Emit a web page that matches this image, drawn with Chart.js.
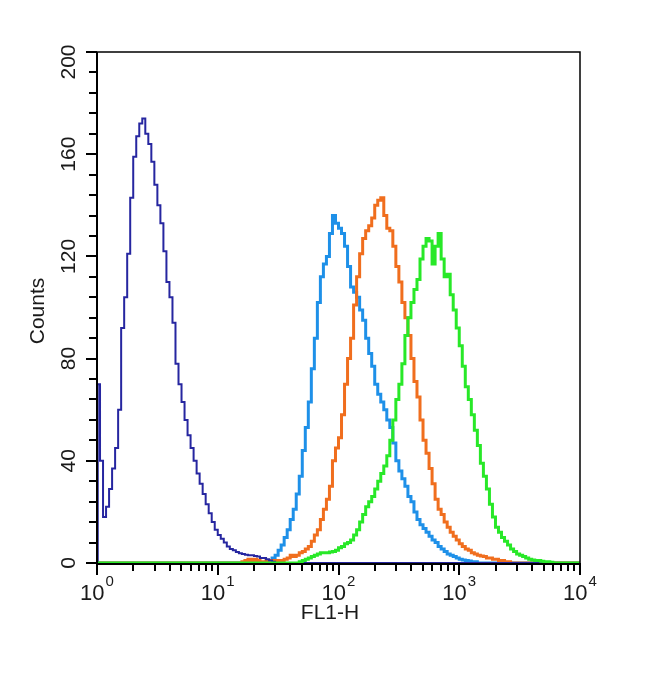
<!DOCTYPE html>
<html>
<head>
<meta charset="utf-8">
<title>FL1-H histogram</title>
<script src="https://cdn.jsdelivr.net/npm/chart.js@4"></script>
<style>
  html, body { margin: 0; padding: 0; background: #fff; }
</style>
</head>
<body>
<canvas id="histo" width="650" height="678"></canvas>
<script>
'use strict';
//****************************
// DATA (counts per channel, 40 channels per decade)
//****************************
var binsPerDecade = 40;
var binCount = 160;
var xDecades = [1, 10, 100, 1000, 10000];
var xExponents = ['0', '1', '2', '3', '4'];
var yTickLabels = [0, 40, 80, 120, 160, 200];
var yMinorStep = 8;

var navyStart = 0;
var navyCounts = [70, 40, 18, 22, 29, 37, 45, 60, 92, 104, 121, 143, 159, 167, 172, 174, 168, 164, 157, 148,
  140, 133, 122, 110, 104, 94, 78, 70, 63, 56, 50, 45, 40, 35, 31, 27, 23, 19.5, 16, 13,
  11, 9.5, 8, 6.5, 5.5, 5, 4.3, 3.8, 3.5, 3.2, 3, 3, 2.7, 2.5, 2, 2, 1.5, 1, 0.5];

var skyStart = 56;
var skyCounts = [0.5, 1, 2, 3, 5, 7, 10, 13, 17, 21, 27, 34, 44, 53, 63, 76, 88, 102, 112, 117,
  120, 129, 136, 133, 131, 129, 124, 116, 108, 106, 104, 99, 95, 88, 82, 77, 70, 66, 63, 60,
  56, 53, 47, 40, 36, 33, 30, 26, 24, 20, 17, 15, 13.5, 12, 10.5, 9, 8, 6.5, 5.5, 4.5,
  3.5, 3, 2.5, 2, 1.5, 1.2, 1, 0.8, 0.5, 0.5];

var orangeStart = 48;
var orangeCounts = [0.5, 1, 1.5, 1, 1.5, 1, 0.5, 0.5, 1, 0.5, 1, 1, 1, 1, 1.5, 2, 3, 2.5, 3, 4,
  4.5, 5.5, 6.5, 8.5, 11, 13, 17, 21, 25, 30, 40, 45, 49, 58, 70, 80, 88, 101, 112, 121,
  127, 130, 132, 135, 140, 142, 143, 136, 131, 130, 124, 116, 110, 102, 96, 89, 80, 71, 65, 56,
  48, 43, 37, 31, 25, 21, 19, 16, 14, 12, 10.5, 9, 7.5, 6.5, 5.5, 5, 4, 3.5, 3, 2.7,
  2.5, 2, 2, 1.5, 1.5, 1, 1, 0.5, 0.5];

var greenStart = 67;
var greenCounts = [0.5, 1, 1.5, 2, 2.5, 3, 3.5, 4, 4, 4, 4.3, 4.5, 5, 6, 6.5, 7.5, 8, 9, 11, 13,
  16, 19, 22, 24, 26, 29, 32, 35, 38, 42, 48, 56, 64, 70, 78, 89, 96, 102, 107, 111,
  119, 124, 127, 126, 117, 124, 129, 119, 112, 113, 105, 99, 92, 85, 77, 69, 64, 58, 52, 46,
  39, 34, 29, 23, 18, 14, 12, 10, 8.5, 7, 5.5, 4.5, 3.5, 3, 2.5, 2, 1.5, 1.2, 1, 1,
  0.7, 0.5, 0.5, 0.3];

// channel centres on the log axis
var channelX = [];
for (var c = 0; c < binCount; c++) {
  channelX.push(Math.pow(10, (c + 0.5) / binsPerDecade));
}

function fullSeries(start, counts) {
  var out = [{ x: 1, y: 0 }];
  for (var i = 0; i < binCount; i++) {
    var v = (i >= start && i < start + counts.length) ? counts[i - start] : 0;
    out.push({ x: channelX[i], y: v });
  }
  out.push({ x: 10000, y: 0 });
  return out;
}

function histLine(data, color, width) {
  return {
    data: data,
    borderColor: color,
    borderWidth: width,
    pointRadius: 0,
    fill: false,
    stepped: 'middle',
    borderJoinStyle: 'miter'
  };
}

var FONT = '"Liberation Sans", Arial, sans-serif';

var axesPlugin = {
  id: 'flowAxes',
  afterDatasetsDraw: function(chart) {
    var ctx = chart.ctx;
    var a = chart.chartArea;
    var xs = chart.scales.x;
    var ys = chart.scales.y;
    ctx.save();
    ctx.strokeStyle = '#000';

    // thin frame top/right
    ctx.lineWidth = 1.5;
    ctx.beginPath();
    ctx.moveTo(a.left, a.top);
    ctx.lineTo(a.right, a.top);
    ctx.lineTo(a.right, a.bottom);
    ctx.stroke();

    // main axes
    ctx.lineWidth = 2;
    ctx.beginPath();
    ctx.moveTo(a.left, a.top);
    ctx.lineTo(a.left, a.bottom + 1);
    ctx.lineTo(a.right + 1, a.bottom + 1);
    ctx.stroke();

    // y ticks
    for (var v = 0; v <= 200; v += yMinorStep) {
      var py = Math.round(ys.getPixelForValue(v));
      var len = (v % 40 === 0) ? 11 : 8;
      ctx.beginPath();
      ctx.moveTo(a.left - len, py);
      ctx.lineTo(a.left, py);
      ctx.stroke();
    }

    // x ticks (decades + 2..9)
    for (var d = 0; d < xDecades.length; d++) {
      var px = Math.round(xs.getPixelForValue(xDecades[d]));
      ctx.beginPath();
      ctx.moveTo(px, a.bottom);
      ctx.lineTo(px, a.bottom + 12);
      ctx.stroke();
      if (d < xDecades.length - 1) {
        for (var m = 2; m <= 9; m++) {
          var mx = Math.round(xs.getPixelForValue(xDecades[d] * m));
          ctx.beginPath();
          ctx.moveTo(mx, a.bottom);
          ctx.lineTo(mx, a.bottom + 8);
          ctx.stroke();
        }
      }
    }

    ctx.fillStyle = '#1a1a1a';

    // y labels, rotated
    ctx.font = '21px ' + FONT;
    ctx.textAlign = 'center';
    ctx.textBaseline = 'middle';
    for (var k = 0; k < yTickLabels.length; k++) {
      var ly = ys.getPixelForValue(yTickLabels[k]);
      if (ly < a.top + 10) { ly = a.top + 10; }
      ctx.save();
      ctx.translate(69, ly);
      ctx.rotate(-Math.PI / 2);
      ctx.fillText(String(yTickLabels[k]), 0, 0);
      ctx.restore();
    }

    // x labels: 10 with superscript exponent
    ctx.textBaseline = 'alphabetic';
    ctx.textAlign = 'left';
    for (var e = 0; e < xDecades.length; e++) {
      var cx = xs.getPixelForValue(xDecades[e]);
      ctx.font = '22px ' + FONT;
      var baseW = ctx.measureText('10').width;
      ctx.font = '15px ' + FONT;
      var expW = ctx.measureText(xExponents[e]).width;
      var left = cx - (baseW + expW + 1) / 2;
      ctx.font = '22px ' + FONT;
      ctx.fillText('10', left, 600);
      ctx.font = '15px ' + FONT;
      ctx.fillText(xExponents[e], left + baseW + 1, 586);
    }

    // axis titles
    ctx.textAlign = 'center';
    ctx.textBaseline = 'middle';
    ctx.font = '21px ' + FONT;
    ctx.fillText('FL1-H', 330, 613);
    ctx.save();
    ctx.translate(38, 311);
    ctx.rotate(-Math.PI / 2);
    ctx.fillText('Counts', 0, 0);
    ctx.restore();

    ctx.restore();
  }
};

var ctx = document.getElementById('histo').getContext('2d');
var chart = new Chart(ctx, {
  type: 'line',
  data: {
    datasets: [
      histLine(fullSeries(greenStart, greenCounts), 'rgb(40, 232, 40)', 3),
      histLine(fullSeries(navyStart, navyCounts), 'rgb(38, 38, 160)', 2),
      histLine(fullSeries(orangeStart, orangeCounts), 'rgb(240, 110, 30)', 3),
      histLine(fullSeries(skyStart, skyCounts), 'rgb(30, 144, 232)', 3)
    ]
  },
  options: {
    responsive: false,
    animation: false,
    layout: { padding: { left: 97, right: 70, top: 52, bottom: 115 } },
    plugins: {
      legend: { display: false },
      tooltip: { enabled: false }
    },
    scales: {
      x: { type: 'logarithmic', min: 1, max: 10000, display: false },
      y: { type: 'linear', min: 0, max: 200, display: false }
    }
  },
  plugins: [axesPlugin]
});
</script>
</body>
</html>
